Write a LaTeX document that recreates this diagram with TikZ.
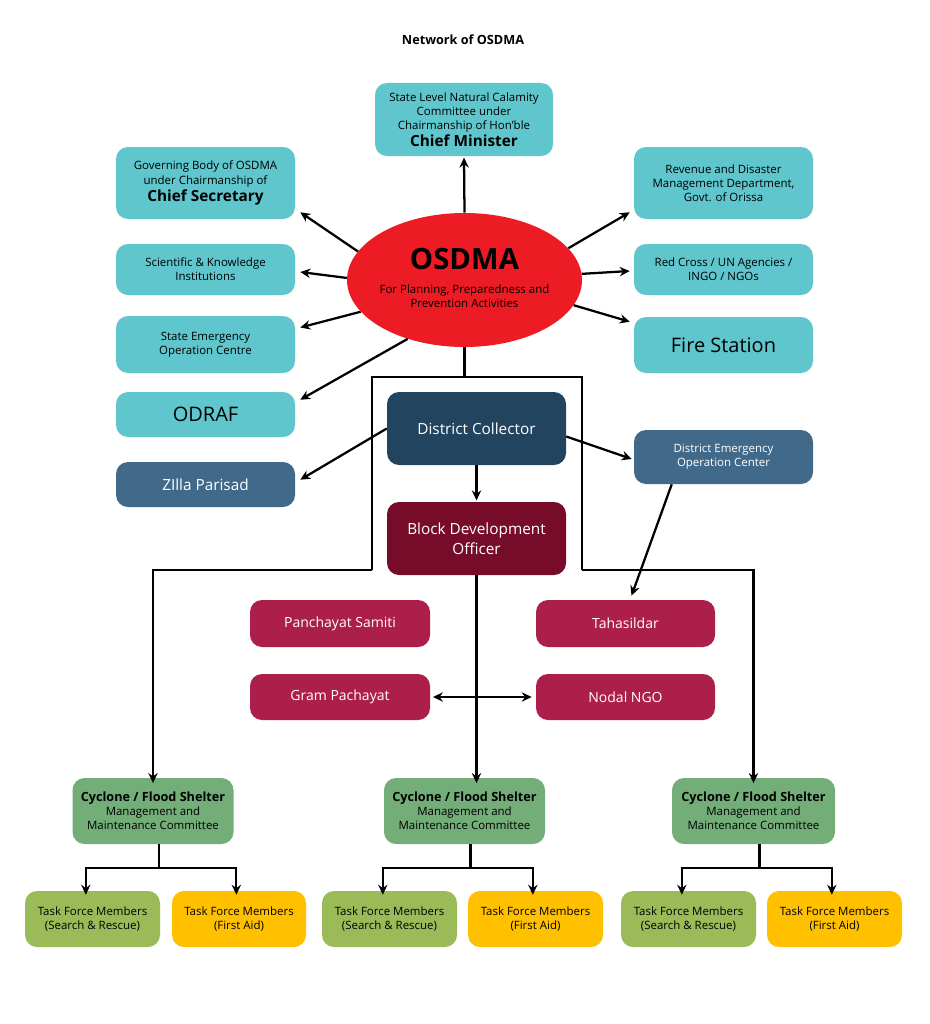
\documentclass[tikz,border=0pt]{standalone}
\usepackage{fontspec}
\setmainfont{Open Sans}
\usetikzlibrary{arrows.meta,calc,shapes.geometric}
\definecolor{cteal}{HTML}{5EC6CC}
\definecolor{cnavy}{HTML}{23445F}
\definecolor{csteel}{HTML}{416A8A}
\definecolor{cmaroon}{HTML}{760C2A}
\definecolor{ccrimson}{HTML}{AD1F4B}
\definecolor{cred}{HTML}{ED1C24}
\definecolor{cgreen}{HTML}{73AD78}
\definecolor{clgreen}{HTML}{9BBB59}
\definecolor{cyellow}{HTML}{FFC000}
\newcommand{\fsmall}{\fontsize{8.6}{10.6}\selectfont}
\newcommand{\sheltertext}{{\fontsize{9.5}{12}\selectfont\bfseries Cyclone / Flood Shelter}\\Management and\\Maintenance Committee}
\begin{document}
\begin{tikzpicture}[x=0.75pt,y=-0.75pt,
  box/.style={rounded corners=9pt, align=center, inner sep=2pt, font=\fsmall},
  tealbox/.style={box, fill=cteal, text=black},
  navybox/.style={box, fill=cnavy, text=white},
  steelbox/.style={box, fill=csteel, text=white},
  maroonbox/.style={box, fill=cmaroon, text=white},
  crimbox/.style={box, fill=ccrimson, text=white},
  shelter/.style={box, fill=cgreen, text=black},
  srbox/.style={box, fill=clgreen, text=black},
  fabox/.style={box, fill=cyellow, text=black},
  arr/.style={-{Stealth[length=7.5pt,width=7pt,inset=2.5pt]}, line width=1.7pt, black},
  ln/.style={line width=1.7pt, black}]
\useasboundingbox (0,0) rectangle (929,1024);
\fill[white] (0,0) rectangle (929,1024);

\node[font=\fontsize{9.5}{12}\selectfont\bfseries] (title) at (463,40) {Network of OSDMA};

% OSDMA ellipse
\node[ellipse, fill=cred, minimum width=235*0.75pt, minimum height=134*0.75pt, inner sep=0pt] (osdma) at (464.5,280) {};
\node[font=\fontsize{22}{24}\selectfont\bfseries, inner sep=0pt] (osdmat) at (464.5,259) {OSDMA};
\node[font=\fsmall, align=center, inner sep=0pt] (osdmas) at (464.5,296) {For Planning, Preparedness and\\Prevention Activities};

% teal boxes
\node[tealbox, minimum width=178*0.75pt, minimum height=73*0.75pt] (cm) at (464,119.5)
  {State Level Natural Calamity\\Committee under\\Chairmanship of Hon'ble\\[1pt]{\fontsize{11.5}{14}\selectfont\bfseries Chief Minister}};
\node[tealbox, minimum width=179*0.75pt, minimum height=72*0.75pt] (gov) at (205.5,183)
  {Governing Body of OSDMA\\under Chairmanship of\\[1pt]{\fontsize{11.5}{14}\selectfont\bfseries Chief Secretary}};
\node[tealbox, minimum width=179*0.75pt, minimum height=72*0.75pt] (rev) at (723.5,183)
  {Revenue and Disaster\\Management Department,\\Govt. of Orissa};
\node[tealbox, minimum width=179*0.75pt, minimum height=51*0.75pt] (sci) at (205.5,269.5)
  {Scientific \& Knowledge\\Institutions};
\node[tealbox, minimum width=179*0.75pt, minimum height=51*0.75pt] (red) at (723.5,269.5)
  {Red Cross / UN Agencies /\\INGO / NGOs};
\node[tealbox, minimum width=179*0.75pt, minimum height=57*0.75pt] (sec) at (205.5,344.5)
  {State Emergency\\Operation Centre};
\node[tealbox, minimum width=179*0.75pt, minimum height=56*0.75pt, font=\fontsize{15}{18}\selectfont] (fire) at (723.5,345)
  {Fire Station};
\node[tealbox, minimum width=179*0.75pt, minimum height=45*0.75pt, font=\fontsize{15}{18}\selectfont] (odraf) at (205.5,414.5)
  {ODRAF};

% district level
\node[steelbox, minimum width=179*0.75pt, minimum height=45*0.75pt, font=\fontsize{11.5}{14}\selectfont] (zilla) at (205.5,484.5)
  {ZIlla Parisad};
\node[navybox, minimum width=179*0.75pt, minimum height=73*0.75pt, font=\fontsize{11.5}{14}\selectfont] (dc) at (476.5,428.5)
  {District Collector};
\node[steelbox, minimum width=179*0.75pt, minimum height=54*0.75pt] (deoc) at (723.5,457)
  {District Emergency\\Operation Center};
\node[maroonbox, minimum width=179*0.75pt, minimum height=73*0.75pt, font=\fontsize{11.5}{15}\selectfont] (bdo) at (476.5,538.5)
  {Block Development\\Officer};

\node[crimbox, minimum width=180*0.75pt, minimum height=47*0.75pt, font=\fontsize{10.5}{13}\selectfont] (ps) at (340,623.5) {Panchayat Samiti};
\node[crimbox, minimum width=179*0.75pt, minimum height=47*0.75pt, font=\fontsize{10.5}{13}\selectfont] (tah) at (625.5,623.5) {Tahasildar};
\node[crimbox, minimum width=180*0.75pt, minimum height=46*0.75pt, font=\fontsize{10.5}{13}\selectfont] (gp) at (340,697) {Gram Pachayat};
\node[crimbox, minimum width=179*0.75pt, minimum height=46*0.75pt, font=\fontsize{10.5}{13}\selectfont] (ngo) at (625.5,697) {Nodal NGO};

% shelters
\node[shelter, minimum width=161*0.75pt, minimum height=66*0.75pt] (cyc1) at (153,811) {\sheltertext};
\node[shelter, minimum width=161*0.75pt, minimum height=66*0.75pt] (cyc2) at (464.5,811) {\sheltertext};
\node[shelter, minimum width=163*0.75pt, minimum height=66*0.75pt] (cyc3) at (753.5,811) {\sheltertext};

\node[srbox, minimum width=135*0.75pt, minimum height=56*0.75pt] (sr1) at (92.5,919) {Task Force Members\\(Search \& Rescue)};
\node[fabox, minimum width=134*0.75pt, minimum height=56*0.75pt] (fa1) at (239,919) {Task Force Members\\(First Aid)};
\node[srbox, minimum width=135*0.75pt, minimum height=56*0.75pt] (sr2) at (389.5,919) {Task Force Members\\(Search \& Rescue)};
\node[fabox, minimum width=135*0.75pt, minimum height=56*0.75pt] (fa2) at (535.5,919) {Task Force Members\\(First Aid)};
\node[srbox, minimum width=135*0.75pt, minimum height=56*0.75pt] (sr3) at (688.5,919) {Task Force Members\\(Search \& Rescue)};
\node[fabox, minimum width=135*0.75pt, minimum height=56*0.75pt] (fa3) at (834.5,919) {Task Force Members\\(First Aid)};

% OSDMA connectors
\draw[arr] (osdma.north) -- ([yshift=-1pt]cm.south);
\draw[arr] (osdma.165) -- ($(gov.south east)+(5,-7)$);
\draw[arr] (osdma.179) -- ($(sci.east)+(5,2.5)$);
\draw[arr] (osdma.197) -- ($(sec.east)+(5,-17)$);
\draw[arr] (osdma.226) -- ($(odraf.north east)+(5,8)$);
\draw[arr] (osdma.17.7) -- ($(rev.south west)+(-4,-7)$);
\draw[arr] (osdma.3.4) -- ($(red.west)+(-4,1.5)$);
\draw[arr] (osdma.347) -- ($(fire.north west)+(-4,5)$);

% bracket
\coordinate (btl) at (372,377);
\coordinate (btr) at (582,377);
\coordinate (bbl) at (372,570);
\coordinate (bbr) at (582,570);
\draw[ln] (osdma.south) -- (osdma.south |- btl);
\draw[ln, line join=miter] (bbl) -- (btl) -- (btr) -- (bbr);
\draw[arr, line join=miter] (bbl) -| ([yshift=-4pt]cyc1.north);
\draw[arr, line join=miter] (bbr) -| ([yshift=-4pt]cyc3.north);
\draw[arr] (bdo.south) -- ([yshift=-4pt]bdo.south |- cyc2.north);

% district connectors
\draw[arr] (dc.west) -- ($(zilla.north east)+(5,18)$);
\draw[arr] ($(dc.east)+(0,8)$) -- ($(deoc.west)+(-2,2)$);
\draw[arr] (dc.south) -- ([yshift=1pt]bdo.north);
\draw[arr] ($(deoc.south west)+(38,0)$) -- ($(tah.north)+(6,-4)$);
\draw[arr, {Stealth[length=7.5pt,width=7pt,inset=2.5pt]}-{Stealth[length=7.5pt,width=7pt,inset=2.5pt]}] ([xshift=2pt]gp.east) -- ([xshift=-3pt]ngo.west);

% shelter splits
\foreach \i in {1,2,3}{
  \coordinate (s\i) at ($(cyc\i.south)+(6,24)$);
  \draw[ln] ($(cyc\i.south)+(6,0)$) -- (s\i);
  \draw[arr, line join=miter] (s\i) -| ([xshift=-5pt,yshift=-3pt]sr\i.north);
  \draw[arr, line join=miter] (s\i) -| ([xshift=-2pt,yshift=-3pt]fa\i.north);
}
\end{tikzpicture}
\end{document}
